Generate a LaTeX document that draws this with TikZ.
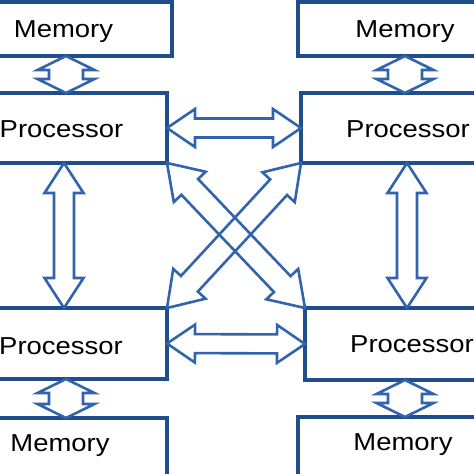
\documentclass[tikz,border=0pt]{standalone}
\usepackage{fontspec}
\setmainfont{Liberation Sans}[FakeStretch=1.12]
\usetikzlibrary{calc}
\definecolor{boxblue}{HTML}{1F4E8C}
\definecolor{arrblue}{HTML}{3264AC}
\tikzset{
  box/.style={draw=boxblue, line width=3.2pt, fill=white, rectangle, inner sep=0pt, outer sep=0pt},
  lbl/.style={anchor=base, inner sep=0pt, font=\fontsize{24.5}{28}\selectfont, text=black},
  arr/.style={draw=arrblue, line width=2.6pt, fill=white, line join=miter},
  xarr/.style={draw=arrblue, line width=2.6pt, line join=miter},
}
\newcommand\dblarr[6][arr]{%
  \path ($(#2)!#6!(#3)$) coordinate (da1) ($(#3)!#6!(#2)$) coordinate (db1);
  \draw[#1] (#2) -- ($(da1)!#5!90:(#2)$) -- ($(da1)!#4!90:(#2)$)
    -- ($(db1)!#4!-90:(#3)$) -- ($(db1)!#5!-90:(#3)$) -- (#3)
    -- ($(db1)!#5!90:(#3)$) -- ($(db1)!#4!90:(#3)$)
    -- ($(da1)!#4!-90:(#2)$) -- ($(da1)!#5!-90:(#2)$) -- cycle;
}
\begin{document}
\begin{tikzpicture}[x=1pt,y=-1pt]
\useasboundingbox (0,0) rectangle (474,474);
\clip (0,0) rectangle (474,474);
\fill[white] (0,0) rectangle (474,474);
% boxes
\node[box, minimum width=192pt, minimum height=54pt] (tlm) at (76,29) {};
\node[box, minimum width=187pt, minimum height=70pt] (tlp) at (73.5,128) {};
\node[box, minimum width=187pt, minimum height=71pt] (blp) at (73.5,343.5) {};
\node[box, minimum width=187pt, minimum height=72pt] (blm) at (73.5,454) {};
\node[box, minimum width=202pt, minimum height=54pt] (trm) at (399,29) {};
\node[box, minimum width=199pt, minimum height=70pt] (trp) at (400.5,128) {};
\node[box, minimum width=195pt, minimum height=72pt] (brp) at (402.5,344) {};
\node[box, minimum width=202pt, minimum height=73pt] (brm) at (399,453.5) {};
% labels
\node[lbl] (tlmt) at (63.5,37) {Memory};
\node[lbl] (tlpt) at (61.5,137) {Processor};
\node[lbl] (blpt) at (61,354) {Processor};
\node[lbl] (blmt) at (60,451) {Memory};
\node[lbl] (trmt) at (405,37) {Memory};
\node[lbl] (trpt) at (408,137) {Processor};
\node[lbl] (brpt) at (412,352) {Processor};
\node[lbl] (brmt) at (403,450) {Memory};
% guide coordinates
\coordinate (mL) at (66,0);
\coordinate (mR) at (405,0);
\coordinate (vL) at (64,0);
\coordinate (vR) at (407,0);
% memory-processor arrows
\dblarr{tlm.south -| mL}{tlp.north -| mL}{17pt}{28.5pt}{14pt}
\dblarr{trm.south -| mR}{trp.north -| mR}{17pt}{28.5pt}{14pt}
\dblarr{blp.south -| mL}{blm.north -| mL}{17pt}{28.5pt}{14pt}
\dblarr{brp.south -| mR}{brm.north -| mR}{17pt}{28.5pt}{14pt}
% processor-processor arrows
\dblarr{tlp.south -| vL}{blp.north -| vL}{10pt}{19.5pt}{30pt}
\dblarr{trp.south -| vR}{brp.north -| vR}{10pt}{19.5pt}{30pt}
\dblarr{tlp.east}{trp.west}{9.5pt}{19pt}{28pt}
\dblarr{blp.east}{brp.west}{9.5pt}{19pt}{28pt}
\dblarr[xarr]{tlp.south east}{brp.north west}{11.5pt}{22pt}{33pt}
\dblarr[xarr]{trp.south west}{blp.north east}{11.5pt}{22pt}{33pt}
\end{tikzpicture}
\end{document}
